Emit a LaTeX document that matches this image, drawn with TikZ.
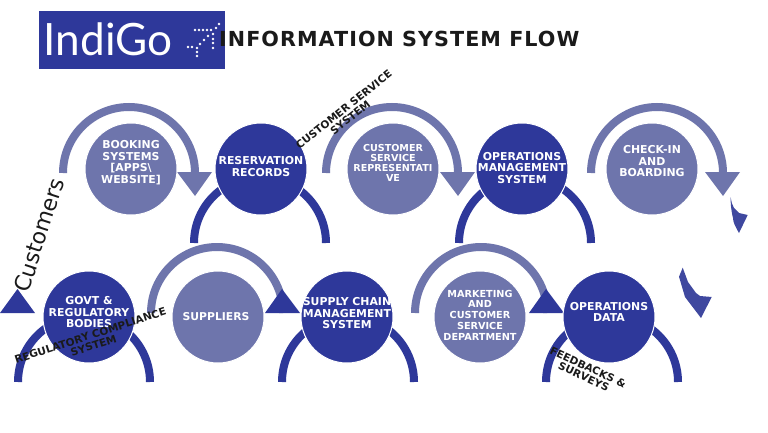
\documentclass[tikz,border=0pt]{standalone}
\usepackage{fontspec}
\setmainfont{DejaVu Sans}
\newfontfamily\logofont{Lato}
\definecolor{lightblue}{HTML}{6E75AC}
\definecolor{darkblue}{HTML}{2E389A}
\definecolor{scrapblue}{HTML}{3F489F}
\definecolor{titleblack}{HTML}{1A1A1A}
% centred text of no size, so that it leaves the circle's diameter alone: raise, size, leading, lines
\newcommand{\ctext}[4]{\smash{\makebox[0pt][c]{\raisebox{#1pt}{\fontsize{#2}{#3}\selectfont\bfseries\begin{tabular}{@{}c@{}}#4\end{tabular}}}}}
\tikzset{
  x=1pt,y=-1pt,
  lightcirc/.style={circle,fill=lightblue,draw=white,line width=1pt,minimum size=92pt,inner sep=0pt,text=white},
  darkcirc/.style={circle,fill=darkblue,draw=white,line width=1pt,minimum size=92pt,inner sep=0pt,text=white},
  lightarc/.style={draw=lightblue,line width=8pt},
  darkarc/.style={draw=darkblue,line width=8pt},
  slanted/.style={text=titleblack,align=center,font=\bfseries\fontsize{10.5}{10.5}\selectfont,inner sep=0pt},
}
\renewcommand{\arraystretch}{1}
\setlength{\tabcolsep}{0pt}
\begin{document}
\begin{tikzpicture}
\useasboundingbox (0,0) rectangle (768,433);
\fill[white] (0,0) rectangle (768,433);
% logo
\fill[darkblue] (39,11) rectangle (225,69);
\node[text=white,inner sep=0pt,yscale=1.06,xscale=1.05,font=\logofont\fontsize{42}{42}\selectfont] (logo) at (108,39.5) {IndiGo};
\foreach \x/\y in {195/30,199/30,203/30,207/30,211/30,216/28,219/24,213/34,213/39,213/43,213/48,208/36,204/40,200/44,197/48,188/47,192/47,197/52,197/56}
  \fill[white] (\x,\y) circle (1.4pt);
\node[text=titleblack,font=\bfseries\fontsize{20.7}{20.7}\selectfont,anchor=west,inner sep=0pt] (title) at (219,38.5) {\addfontfeatures{LetterSpace=5}INFORMATION SYSTEM FLOW};
% top row arcs
\foreach \cx in {129,392,657} {
  \draw[lightarc] (\cx-66,173) arc[start angle=180,end angle=360,radius=66];
  \fill[lightblue] (\cx+48,172) -- (\cx+83,172) -- (\cx+66,196) -- cycle;
}
\foreach \cx in {260,525} \draw[darkarc] (\cx-66,243) arc[start angle=180,end angle=360,radius=66];
% bottom row arcs
\foreach \cx in {217,481} {
  \draw[lightarc] (\cx-66,313) arc[start angle=180,end angle=360,radius=66];
  \fill[darkblue] (\cx+48,313) -- (\cx+83,313) -- (\cx+65,289) -- cycle;
}
\foreach \cx in {84,348,612} \draw[darkarc] (\cx-66,382) arc[start angle=180,end angle=360,radius=66];
\fill[darkblue] (0,313) -- (35,313) -- (17.5,289) -- cycle;
% nodes
\node[lightcirc] (booking) at (131,169) {\ctext{2.5}{10.9}{11.4}{BOOKING\\SYSTEMS\\{[APPS\textbackslash}\\WEBSITE]}};
\node[darkcirc] (reservation) at (261,169) {\ctext{-2}{10.9}{11.4}{RESERVATION\\RECORDS}};
\node[lightcirc] (csr) at (393,169) {\ctext{2}{9.6}{10}{CUSTOMER\\SERVICE\\REPRESENTATI\\VE}};
\node[darkcirc] (ops) at (522,169) {\ctext{-3}{10.9}{11.4}{OPERATIONS\\MANAGEMENT\\SYSTEM}};
\node[lightcirc] (checkin) at (652,169) {\ctext{3.5}{10.9}{11.4}{CHECK-IN\\AND\\BOARDING}};
\node[darkcirc] (govt) at (89,317) {\ctext{0.5}{10.9}{11.4}{GOVT \&\\REGULATORY\\BODIES}};
\node[lightcirc] (suppliers) at (218,317) {\ctext{-3.5}{10.8}{11.4}{SUPPLIERS\hspace*{4pt}}};
\node[darkcirc] (supply) at (347,317) {\ctext{-0.5}{10.9}{11.4}{SUPPLY CHAIN\\MANAGEMENT\\SYSTEM}};
\node[lightcirc] (marketing) at (480,317) {\ctext{-2}{9.7}{10.7}{MARKETING\\AND\\CUSTOMER\\SERVICE\\DEPARTMENT}};
\node[darkcirc] (opsdata) at (609,317) {\ctext{0.5}{10.9}{11.4}{OPERATIONS\\DATA}};
% slanted labels
\node[slanted,rotate=38.5] (cs) at (347,113.5) {CUSTOMER SERVICE\\SYSTEM};
\node[slanted,rotate=18] (rc) at (92,340.5) {REGULATORY COMPLIANCE\\SYSTEM};
\node[slanted,rotate=-25] (fb) at (586,372) {FEEDBACKS \&\\SURVEYS};
\node[text=titleblack,rotate=72,font=\fontsize{22}{22}\selectfont,inner sep=0pt] (cust) at (39,235) {Customers};
% scraps
\fill[scrapblue] (730.7,197.3) .. controls (731.5,202) and (732,205) .. (734,208) -- (739,213) -- (747.7,215) -- (739,233) .. controls (735,226) and (733,222) .. (733,218) .. controls (731,210) and (730.5,203) .. cycle;
\fill[scrapblue] (682.7,267.7) -- (679,276.7) -- (685,297) -- (701,318) -- (711.7,297) -- (700,296) -- (696,293) -- (688,282) -- cycle;
\end{tikzpicture}
\end{document}
